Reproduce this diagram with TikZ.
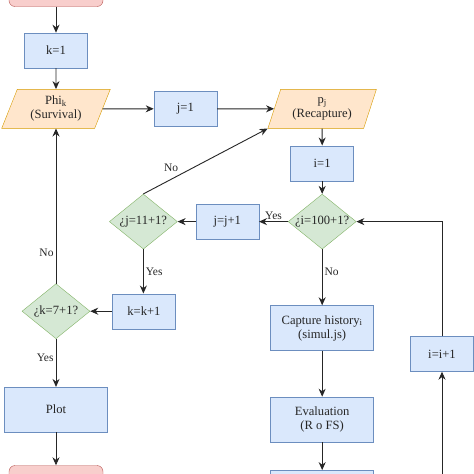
\documentclass[tikz,border=0pt]{standalone}
\usepackage{fontspec}
\setmainfont{Liberation Serif}
\usetikzlibrary{shapes.geometric,positioning,arrows.meta}
\definecolor{procfill}{HTML}{DAE8FC}
\definecolor{procline}{HTML}{6C8EBF}
\definecolor{iofill}{HTML}{FFE6CC}
\definecolor{ioline}{HTML}{D79B00}
\definecolor{testfill}{HTML}{D5E8D4}
\definecolor{testline}{HTML}{82B366}
\definecolor{termfill}{HTML}{F8CECC}
\definecolor{termline}{HTML}{B85450}
\begin{document}
\begin{tikzpicture}
  [x=1pt,y=-1pt,>={Stealth[length=8pt,width=7pt]},
   every node/.style={font=\fontsize{12.6}{14}\selectfont,text=black!85,align=center},
   proc/.style={rectangle,draw=procline,fill=procfill,minimum width=63pt,minimum height=35pt},
   bigproc/.style={proc,minimum width=103pt,minimum height=45pt},
   io/.style={trapezium,trapezium left angle=68,trapezium right angle=112,trapezium stretches=true,
              draw=ioline,fill=iofill,minimum width=109pt,minimum height=39pt,inner sep=0pt},
   test/.style={diamond,aspect=1.24,draw=testline,fill=testfill,minimum width=68pt,minimum height=55pt,inner sep=0pt},
   term/.style={rectangle,rounded corners=6pt,draw=termline,fill=termfill,minimum width=94pt,minimum height=35pt},
   lbl/.style={font=\fontsize{11.5}{13}\selectfont,inner sep=2pt},
   link/.style={->,line width=0.9pt,draw=black!85}]
  \useasboundingbox (0,0) rectangle (474,474);
  \clip (0,0) rectangle (474,474);
  \fill[white] (0,0) rectangle (474,474);

  \node (start) [term] at (56,-11) {};
  \node (k1)    [proc, below=26pt of start] {k=1};
  \node (phik)  [io, below=21pt of k1] {Phi\textsubscript{k}\\(Survival)};
  \node (j1)    [proc, right=51pt of phik] {j=1};
  \node (pj)    [io, right=57pt of j1] {p\textsubscript{j}\\(Recapture)};
  \node (i1)    [proc, below=17pt of pj] {i=1};
  \node (idec)  [test, below=13pt of i1] {¿i=100+1?};
  \node (jinc)  [proc, left=29pt of idec] {j=j+1};
  \node (jdec)  [test, left=18pt of jinc] {¿j=11+1?};
  \node (kdec)  [test, below=155pt of phik] {¿k=7+1?};
  \node (kinc)  [proc, right=22pt of kdec] {k=k+1};
  \node (plot)  [bigproc, below=48pt of kdec] {Plot};
  \node (stop)  [term, below=33pt of plot] {};
  \node (capt)  [bigproc, below=56pt of idec] {Capture history\textsubscript{i}\\(simul.js)};
  \node (eval)  [bigproc, below=46pt of capt] {Evaluation\\(R o FS)};
  \node (next)  [bigproc, below=28pt of eval] {};
  \node (iinc)  [proc] at (442,354) {i=i+1};
  \coordinate (loop) at (442,480);

\foreach \from/\to in
{start/k1, k1/phik, phik/j1, j1/pj, pj/i1, i1/idec, jinc/jdec, kinc/kdec, plot/stop, capt/eval, eval/next, loop/iinc}
    \draw[link] (\from) -- (\to);

  \draw[link] (idec) -- node[lbl,above] {Yes} (jinc);
  \draw[link] (jdec.north) -- node[lbl,pos=0.3,above left] {No} (pj.bottom left corner);
  \draw[link] (jdec.south) -- node[lbl,right] {Yes} (jdec.south |- kinc.north);
  \draw[link] (kdec.north) -- node[lbl,pos=0.2,left] {No} (kdec.north |- phik.south);
  \draw[link] (kdec) -- node[lbl,pos=0.4,left] {Yes} (plot);
  \draw[link] (idec) -- node[lbl,pos=0.4,right] {No} (capt);
  \draw[link] (iinc) |- (idec);
\end{tikzpicture}
\end{document}
